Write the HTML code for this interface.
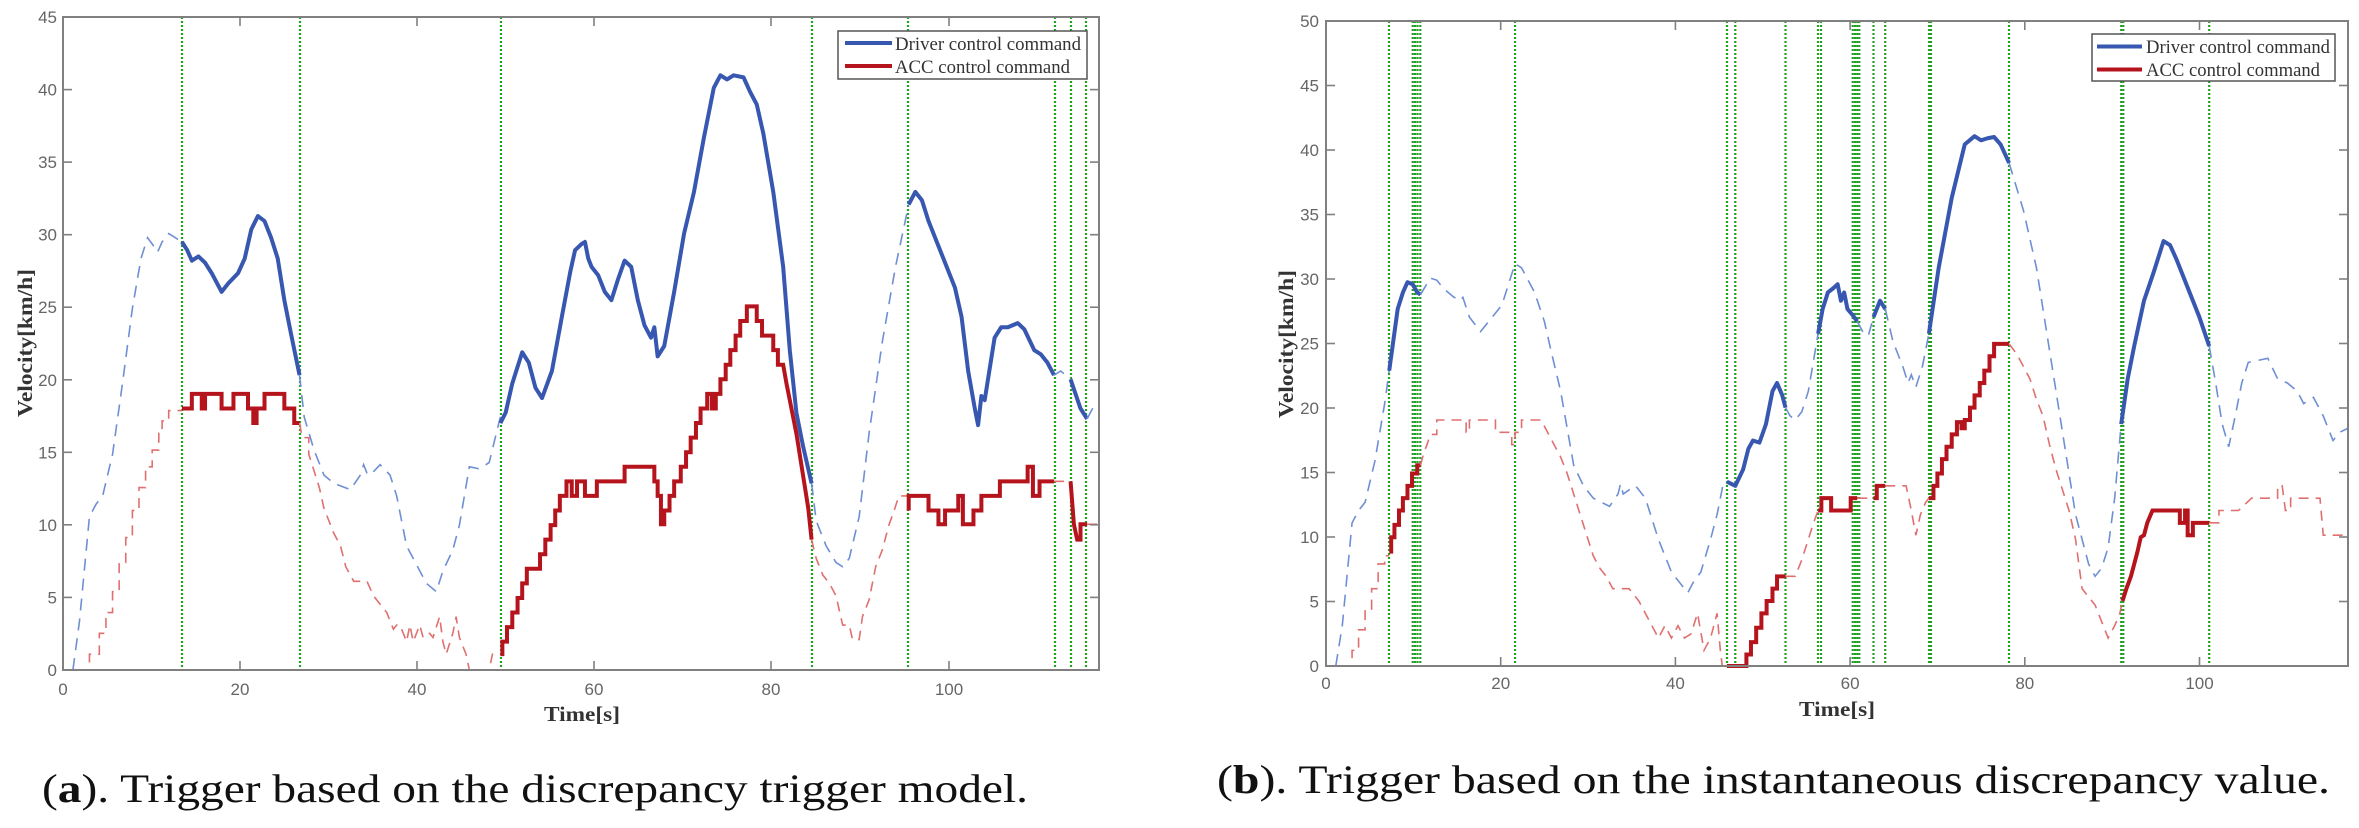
<!DOCTYPE html>
<html><head><meta charset="utf-8"><style>
html,body{margin:0;padding:0;background:#fff;}
svg{display:block;}
.ax{fill:none;stroke:#808080;stroke-width:2;}
.tk{stroke:#808080;stroke-width:1.6;}
.tl{font-family:"Liberation Sans",Arial,sans-serif;font-size:17px;fill:#666;}
.lab{font-family:"Liberation Serif",serif;font-weight:bold;font-size:21px;fill:#333;}
.leg{font-family:"Liberation Serif",serif;font-size:19px;fill:#333;}
.cap{font-family:"Liberation Serif",serif;font-size:40px;fill:#111;}
.gr{stroke:#22a022;stroke-width:2.2;stroke-dasharray:2 2;}
.bs{fill:none;stroke:#3757b0;stroke-width:4;stroke-linejoin:round;vector-effect:non-scaling-stroke;}
.bd{fill:none;stroke:#6f8fd4;stroke-width:1.6;stroke-dasharray:12 8;vector-effect:non-scaling-stroke;}
.rs{fill:none;stroke:#b5141d;stroke-width:4;stroke-linejoin:miter;vector-effect:non-scaling-stroke;}
.rd{fill:none;stroke:#e07070;stroke-width:1.6;stroke-dasharray:10 7;vector-effect:non-scaling-stroke;}
</style></head><body>
<svg width="2359" height="828" viewBox="0 0 2359 828" xmlns="http://www.w3.org/2000/svg">
<rect width="2359" height="828" fill="#fff"/>

<!-- ================= LEFT PANEL ================= -->
<g>
<!-- triggers -->
<g class="gr">
<line x1="182" y1="17" x2="182" y2="670"/><line x1="300" y1="17" x2="300" y2="670"/>
<line x1="501" y1="17" x2="501" y2="670"/><line x1="812" y1="17" x2="812" y2="670"/>
<line x1="908" y1="17" x2="908" y2="670"/><line x1="1055" y1="17" x2="1055" y2="670"/>
<line x1="1071" y1="17" x2="1071" y2="670"/><line x1="1086" y1="17" x2="1086" y2="670"/>
</g>
<g transform="translate(63,17) scale(0.66071,0.41645)">
<!-- blue -->
<path class="bd" d="M15,1568 L25,1450 L40,1200 L50,1170 L60,1150 L75,1050 L90,880 L105,700 L118,580 L128,530 L135,545 L143,565 L150,540 L160,520 L170,530 L180,540"/>
<path class="bs" d="M180,540 L188,560 L195,585 L205,575 L215,590 L225,615 L240,660 L250,640 L265,615 L275,580 L285,510 L295,478 L305,490 L315,530 L325,580 L335,680 L345,760 L358,860"/>
<path class="bd" d="M358,860 L365,960 L380,1040 L395,1100 L410,1120 L435,1135 L450,1100 L455,1075 L460,1095 L465,1100 L480,1075 L495,1100 L505,1150 L520,1270 L530,1300 L540,1330 L550,1360 L565,1380 L575,1330 L590,1280 L600,1220 L615,1080 L630,1085 L645,1070 L662,960"/>
<path class="bs" d="M662,975 L670,950 L680,880 L695,805 L705,830 L715,890 L725,915 L740,850 L755,720 L768,610 L775,560 L785,545 L790,540 L795,580 L800,600 L810,620 L820,660 L830,680 L840,630 L850,585 L860,600 L870,680 L880,740 L890,770 L895,745 L900,815 L910,790 L925,660 L940,520 L955,420 L970,290 L985,170 L995,140 L1005,150 L1015,140 L1030,145 L1040,180 L1050,210 L1060,280 L1075,420 L1090,600 L1100,800 L1110,950 L1120,1030 L1133,1120"/>
<path class="bd" d="M1133,1120 L1140,1210 L1155,1270 L1170,1310 L1180,1320 L1190,1300 L1205,1200 L1220,1000 L1240,780 L1260,600 L1280,450"/>
<path class="bs" d="M1280,450 L1290,420 L1300,440 L1310,490 L1330,570 L1350,650 L1360,720 L1370,850 L1380,940 L1385,980 L1390,910 L1395,920 L1410,770 L1420,745 L1430,745 L1445,735 L1455,750 L1470,800 L1480,810 L1490,830 L1500,860"/>
<path class="bd" d="M1500,860 L1510,850 L1525,870"/>
<path class="bs" d="M1525,870 L1540,940 L1550,965"/>
<path class="bd" d="M1550,965 L1560,935 L1568,930"/>
<!-- red -->
<path class="rd" d="M0,1568 L40,1568 L40,1530 L55,1530 L55,1480 L65,1480 L65,1430 L75,1430 L75,1380 L85,1380 L85,1310 L95,1310 L95,1250 L105,1250 L105,1185 L115,1185 L115,1130 L125,1130 L125,1080 L135,1080 L135,1040 L145,1040 L145,1000 L150,1000 L150,970 L160,970 L160,945 L180,945"/>
<path class="rs" d="M180,940 L195,940 L195,905 L210,905 L210,940 L215,940 L215,905 L240,905 L240,940 L258,940 L258,905 L280,905 L280,940 L288,940 L288,975 L293,975 L293,940 L305,940 L305,905 L335,905 L335,940 L350,940 L350,975 L358,975"/>
<path class="rd" d="M358,975 L362,1010 L372,1010 L372,1050 L380,1090 L388,1130 L395,1180 L405,1220 L410,1240 L420,1270 L428,1320 L440,1355 L460,1355 L470,1390 L480,1410 L490,1430 L500,1470 L505,1460 L510,1460 L515,1480 L520,1500 L525,1460 L530,1500 L540,1460 L545,1490 L555,1480 L560,1490 L570,1440 L575,1500 L580,1530 L590,1480 L595,1440 L600,1490 L610,1530 L615,1568 L645,1568 L650,1530 L662,1530"/>
<path class="rs" d="M662,1530 L665,1530 L665,1500 L672,1500 L672,1465 L680,1465 L680,1430 L688,1430 L688,1395 L695,1395 L695,1360 L702,1360 L702,1325 L722,1325 L722,1290 L730,1290 L730,1255 L738,1255 L738,1220 L745,1220 L745,1185 L752,1185 L752,1150 L762,1150 L762,1115 L770,1115 L770,1150 L778,1150 L778,1115 L790,1115 L790,1150 L808,1150 L808,1115 L850,1115 L850,1080 L895,1080 L895,1115 L900,1115 L900,1150 L905,1150 L905,1218 L910,1218 L910,1185 L918,1185 L918,1150 L925,1150 L925,1115 L935,1115 L935,1080 L943,1080 L943,1045 L950,1045 L950,1010 L958,1010 L958,975 L965,975 L965,940 L975,940 L975,905 L982,905 L982,940 L988,940 L988,905 L995,905 L995,870 L1003,870 L1003,835 L1010,835 L1010,800 L1018,800 L1018,765 L1025,765 L1025,730 L1035,730 L1035,695 L1050,695 L1050,730 L1058,730 L1058,765 L1075,765 L1075,800 L1082,800 L1082,835 L1090,835 L1095,880 L1100,920 L1110,1000 L1120,1100 L1128,1180 L1133,1255"/>
<path class="rd" d="M1133,1255 L1140,1300 L1150,1340 L1160,1360 L1170,1390 L1180,1460 L1190,1460 L1195,1495 L1205,1495 L1210,1440 L1220,1400 L1230,1320 L1240,1280 L1250,1220 L1258,1185 L1265,1150 L1280,1150"/>
<path class="rs" d="M1280,1185 L1280,1150 L1310,1150 L1310,1185 L1325,1185 L1325,1218 L1335,1218 L1335,1185 L1355,1185 L1355,1150 L1362,1150 L1362,1218 L1378,1218 L1378,1185 L1390,1185 L1390,1150 L1418,1150 L1418,1115 L1460,1115 L1460,1080 L1468,1080 L1468,1150 L1478,1150 L1478,1115 L1500,1115"/>
<path class="rd" d="M1500,1115 L1525,1115"/>
<path class="rs" d="M1525,1115 L1530,1218 L1535,1255 L1540,1255 L1540,1218 L1550,1218"/>
<path class="rd" d="M1550,1218 L1568,1218"/>
</g>
<!-- axes -->
<rect class="ax" x="63" y="17" width="1036" height="653"/>
<g class="tk">
<line x1="240" y1="670" x2="240" y2="661"/><line x1="417" y1="670" x2="417" y2="661"/><line x1="594" y1="670" x2="594" y2="661"/><line x1="771" y1="670" x2="771" y2="661"/><line x1="949" y1="670" x2="949" y2="661"/>
<line x1="240" y1="17" x2="240" y2="26"/><line x1="417" y1="17" x2="417" y2="26"/><line x1="594" y1="17" x2="594" y2="26"/><line x1="771" y1="17" x2="771" y2="26"/><line x1="949" y1="17" x2="949" y2="26"/>
<line x1="63" y1="597.4" x2="72" y2="597.4"/><line x1="63" y1="524.8" x2="72" y2="524.8"/><line x1="63" y1="452.3" x2="72" y2="452.3"/><line x1="63" y1="379.8" x2="72" y2="379.8"/><line x1="63" y1="307.2" x2="72" y2="307.2"/><line x1="63" y1="234.7" x2="72" y2="234.7"/><line x1="63" y1="162.1" x2="72" y2="162.1"/><line x1="63" y1="89.6" x2="72" y2="89.6"/>
<line x1="1099" y1="597.4" x2="1090" y2="597.4"/><line x1="1099" y1="524.8" x2="1090" y2="524.8"/><line x1="1099" y1="452.3" x2="1090" y2="452.3"/><line x1="1099" y1="379.8" x2="1090" y2="379.8"/><line x1="1099" y1="307.2" x2="1090" y2="307.2"/><line x1="1099" y1="234.7" x2="1090" y2="234.7"/><line x1="1099" y1="162.1" x2="1090" y2="162.1"/><line x1="1099" y1="89.6" x2="1090" y2="89.6"/>
</g>
<g class="tl" text-anchor="middle">
<text x="63" y="695">0</text><text x="240" y="695">20</text><text x="417" y="695">40</text><text x="594" y="695">60</text><text x="771" y="695">80</text><text x="949" y="695">100</text>
</g>
<g class="tl" text-anchor="end">
<text x="57" y="676">0</text><text x="57" y="603.4">5</text><text x="57" y="530.8">10</text><text x="57" y="458.3">15</text><text x="57" y="385.8">20</text><text x="57" y="313.2">25</text><text x="57" y="240.7">30</text><text x="57" y="168.1">35</text><text x="57" y="95.6">40</text><text x="57" y="23">45</text>
</g>
<text class="lab" x="582" y="721" text-anchor="middle" textLength="76" lengthAdjust="spacingAndGlyphs">Time[s]</text>
<text class="lab" transform="translate(32,343) rotate(-90)" x="0" y="0" text-anchor="middle" textLength="148" lengthAdjust="spacingAndGlyphs">Velocity[km/h]</text>
<!-- legend -->
<rect x="838" y="31" width="249" height="48" fill="#fff" stroke="#555" stroke-width="1.5"/>
<line x1="845" y1="43" x2="892" y2="43" stroke="#3757b0" stroke-width="4"/>
<line x1="845" y1="66" x2="892" y2="66" stroke="#b5141d" stroke-width="4"/>
<text class="leg" x="895" y="50" textLength="186" lengthAdjust="spacingAndGlyphs">Driver control command</text>
<text class="leg" x="895" y="73" textLength="175" lengthAdjust="spacingAndGlyphs">ACC control command</text>
</g>

<!-- ================= RIGHT PANEL ================= -->
<g>
<g class="gr">
<line x1="1389" y1="21" x2="1389" y2="666"/>
<line x1="1412.7" y1="21" x2="1412.7" y2="666"/><line x1="1415" y1="21" x2="1415" y2="666"/><line x1="1417.5" y1="21" x2="1417.5" y2="666"/><line x1="1420.3" y1="21" x2="1420.3" y2="666"/>
<line x1="1515" y1="21" x2="1515" y2="666"/>
<line x1="1727" y1="21" x2="1727" y2="666"/><line x1="1735.3" y1="21" x2="1735.3" y2="666"/>
<line x1="1785.5" y1="21" x2="1785.5" y2="666"/>
<line x1="1818" y1="21" x2="1818" y2="666"/><line x1="1821" y1="21" x2="1821" y2="666"/>
<line x1="1852.7" y1="21" x2="1852.7" y2="666"/><line x1="1855" y1="21" x2="1855" y2="666"/><line x1="1857.2" y1="21" x2="1857.2" y2="666"/><line x1="1859.3" y1="21" x2="1859.3" y2="666"/>
<line x1="1873.5" y1="21" x2="1873.5" y2="666"/><line x1="1885.2" y1="21" x2="1885.2" y2="666"/>
<line x1="1929" y1="21" x2="1929" y2="666"/><line x1="1931" y1="21" x2="1931" y2="666"/>
<line x1="2009" y1="21" x2="2009" y2="666"/>
<line x1="2121.2" y1="21" x2="2121.2" y2="666"/><line x1="2123.3" y1="21" x2="2123.3" y2="666"/>
<line x1="2209.2" y1="21" x2="2209.2" y2="666"/>
</g>
<g transform="translate(1326,21) scale(0.65179,0.41135)">
<!-- blue -->
<path class="bd" d="M15,1568 L25,1470 L40,1220 L50,1190 L60,1170 L75,1070 L90,930 L97,850"/>
<path class="bs" d="M97,850 L110,700 L118,660 L125,635 L133,640 L140,660 L145,665"/>
<path class="bd" d="M145,665 L160,625 L170,630 L180,650 L195,670 L205,680 L210,672 L220,720 L237,755 L255,720 L270,690 L280,640 L290,590 L300,600 L320,660 L335,730 L345,800 L360,900 L370,990 L380,1080 L395,1130 L410,1160 L435,1180 L448,1150 L452,1125 L456,1150 L465,1140 L475,1130 L490,1160 L500,1210 L510,1260 L520,1300 L530,1340 L540,1360 L555,1390 L565,1360 L575,1340 L590,1260 L600,1200 L610,1120 L615,1120"/>
<path class="bs" d="M615,1120 L628,1130 L640,1090 L648,1040 L655,1020 L665,1025 L675,980 L685,900 L692,880 L700,910 L705,940"/>
<path class="bd" d="M705,940 L712,960 L720,970 L730,950 L740,900 L755,760"/>
<path class="bs" d="M755,760 L762,700 L770,660 L778,650 L785,640 L790,680 L795,660 L800,700 L808,715 L815,730"/>
<path class="bd" d="M815,730 L825,760 L832,765 L840,720"/>
<path class="bs" d="M840,720 L850,680 L858,700"/>
<path class="bd" d="M858,700 L870,780 L885,840 L893,880 L898,860 L905,890 L915,840 L925,760"/>
<path class="bs" d="M925,760 L940,600 L960,430 L980,300 L995,280 L1005,290 L1015,285 L1025,282 L1035,300 L1048,345"/>
<path class="bd" d="M1048,345 L1070,460 L1090,600 L1110,800 L1130,1000 L1150,1200 L1170,1320 L1180,1350 L1190,1330 L1200,1280 L1210,1160 L1220,980"/>
<path class="bs" d="M1220,980 L1230,870 L1240,790 L1255,680 L1270,610 L1285,535 L1295,545 L1305,580 L1320,640 L1340,720 L1355,790"/>
<path class="bd" d="M1355,790 L1365,880 L1375,980 L1385,1035 L1395,960 L1405,880 L1415,830 L1430,825 L1445,820 L1460,870 L1475,880 L1490,900 L1500,930 L1515,915 L1530,960 L1545,1020 L1555,1000 L1568,990"/>
<!-- red -->
<path class="rd" d="M0,1568 L40,1568 L40,1530 L50,1530 L50,1480 L60,1480 L60,1430 L70,1430 L70,1380 L80,1380 L80,1320 L90,1320 L90,1300 L97,1300"/>
<path class="rs" d="M97,1290 L100,1290 L100,1255 L105,1255 L105,1225 L112,1225 L112,1190 L118,1190 L118,1160 L125,1160 L125,1130 L132,1130 L132,1100 L140,1100 L140,1080 L145,1080"/>
<path class="rd" d="M145,1080 L150,1050 L155,1030 L160,1005 L170,1005 L170,970 L215,970 L215,1000 L220,1000 L220,970 L260,970 L260,1000 L285,1000 L285,1030 L290,1030 L290,1000 L300,1000 L300,970 L330,970 L340,1000 L350,1030 L360,1060 L370,1100 L380,1150 L390,1200 L400,1250 L410,1300 L420,1330 L430,1350 L440,1380 L465,1380 L480,1410 L490,1440 L500,1470 L510,1500 L520,1470 L530,1500 L540,1470 L550,1500 L560,1490 L570,1440 L580,1530 L590,1500 L600,1440 L605,1530 L608,1568 L615,1568"/>
<path class="rs" d="M615,1568 L645,1568 L645,1540 L652,1540 L652,1510 L660,1510 L660,1475 L668,1475 L668,1440 L676,1440 L676,1410 L685,1410 L685,1380 L692,1380 L692,1350 L705,1350"/>
<path class="rd" d="M705,1350 L720,1350 L730,1310 L740,1260 L748,1220 L755,1190"/>
<path class="rs" d="M755,1190 L760,1190 L760,1160 L775,1160 L775,1190 L805,1190 L805,1160 L815,1160"/>
<path class="rd" d="M815,1160 L840,1160"/>
<path class="rs" d="M840,1160 L845,1160 L845,1130 L858,1130"/>
<path class="rd" d="M858,1130 L890,1130 L898,1190 L905,1250 L912,1200 L920,1170 L925,1160"/>
<path class="rs" d="M925,1160 L932,1160 L932,1130 L938,1130 L938,1100 L945,1100 L945,1065 L952,1065 L952,1035 L960,1035 L960,1005 L968,1005 L968,975 L975,975 L975,990 L980,990 L980,970 L988,970 L988,940 L995,940 L995,910 L1003,910 L1003,880 L1010,880 L1010,850 L1018,850 L1018,815 L1025,815 L1025,785 L1048,785"/>
<path class="rd" d="M1048,785 L1060,810 L1070,840 L1080,870 L1090,920 L1100,960 L1110,1030 L1120,1090 L1130,1140 L1140,1190 L1150,1260 L1160,1380 L1170,1400 L1180,1420 L1190,1460 L1200,1500 L1210,1470 L1218,1440 L1222,1410"/>
<path class="rs" d="M1222,1410 L1228,1380 L1235,1350 L1240,1320 L1245,1290 L1250,1255 L1255,1250 L1260,1220 L1268,1190 L1275,1190 L1310,1190 L1310,1220 L1318,1220 L1318,1190 L1322,1190 L1322,1250 L1330,1250 L1330,1220 L1355,1220"/>
<path class="rd" d="M1355,1220 L1370,1220 L1370,1190 L1400,1190 L1420,1160 L1460,1160 L1460,1130 L1467,1130 L1472,1190 L1480,1190 L1480,1160 L1525,1160 L1530,1250 L1568,1250"/>
</g>
<rect class="ax" x="1326" y="21" width="1022" height="645"/>
<g class="tk">
<line x1="1500.7" y1="666" x2="1500.7" y2="657"/><line x1="1675.4" y1="666" x2="1675.4" y2="657"/><line x1="1850.1" y1="666" x2="1850.1" y2="657"/><line x1="2024.8" y1="666" x2="2024.8" y2="657"/><line x1="2199.5" y1="666" x2="2199.5" y2="657"/>
<line x1="1500.7" y1="21" x2="1500.7" y2="30"/><line x1="1675.4" y1="21" x2="1675.4" y2="30"/><line x1="1850.1" y1="21" x2="1850.1" y2="30"/><line x1="2024.8" y1="21" x2="2024.8" y2="30"/><line x1="2199.5" y1="21" x2="2199.5" y2="30"/>
<line x1="1326" y1="601.5" x2="1335" y2="601.5"/><line x1="1326" y1="537" x2="1335" y2="537"/><line x1="1326" y1="472.5" x2="1335" y2="472.5"/><line x1="1326" y1="408" x2="1335" y2="408"/><line x1="1326" y1="343.5" x2="1335" y2="343.5"/><line x1="1326" y1="279" x2="1335" y2="279"/><line x1="1326" y1="214.5" x2="1335" y2="214.5"/><line x1="1326" y1="150" x2="1335" y2="150"/><line x1="1326" y1="85.5" x2="1335" y2="85.5"/>
<line x1="2348" y1="601.5" x2="2339" y2="601.5"/><line x1="2348" y1="537" x2="2339" y2="537"/><line x1="2348" y1="472.5" x2="2339" y2="472.5"/><line x1="2348" y1="408" x2="2339" y2="408"/><line x1="2348" y1="343.5" x2="2339" y2="343.5"/><line x1="2348" y1="279" x2="2339" y2="279"/><line x1="2348" y1="214.5" x2="2339" y2="214.5"/><line x1="2348" y1="150" x2="2339" y2="150"/><line x1="2348" y1="85.5" x2="2339" y2="85.5"/>
</g>
<g class="tl" text-anchor="middle">
<text x="1326" y="689">0</text><text x="1500.7" y="689">20</text><text x="1675.4" y="689">40</text><text x="1850.1" y="689">60</text><text x="2024.8" y="689">80</text><text x="2199.5" y="689">100</text>
</g>
<g class="tl" text-anchor="end">
<text x="1319" y="672">0</text><text x="1319" y="607.5">5</text><text x="1319" y="543">10</text><text x="1319" y="478.5">15</text><text x="1319" y="414">20</text><text x="1319" y="349.5">25</text><text x="1319" y="285">30</text><text x="1319" y="220.5">35</text><text x="1319" y="156">40</text><text x="1319" y="91.5">45</text><text x="1319" y="27">50</text>
</g>
<text class="lab" x="1837" y="716" text-anchor="middle" textLength="76" lengthAdjust="spacingAndGlyphs">Time[s]</text>
<text class="lab" transform="translate(1293,344) rotate(-90)" x="0" y="0" text-anchor="middle" textLength="148" lengthAdjust="spacingAndGlyphs">Velocity[km/h]</text>
<rect x="2092" y="34" width="243" height="47" fill="#fff" stroke="#555" stroke-width="1.5"/>
<line x1="2097" y1="46.5" x2="2142" y2="46.5" stroke="#3757b0" stroke-width="4"/>
<line x1="2097" y1="69.5" x2="2142" y2="69.5" stroke="#b5141d" stroke-width="4"/>
<text class="leg" x="2146" y="53" textLength="184" lengthAdjust="spacingAndGlyphs">Driver control command</text>
<text class="leg" x="2146" y="76" textLength="174" lengthAdjust="spacingAndGlyphs">ACC control command</text>
</g>

<!-- captions -->
<text class="cap" x="42" y="802" textLength="986" lengthAdjust="spacingAndGlyphs">(<tspan font-weight="bold">a</tspan>). Trigger based on the discrepancy trigger model.</text>
<text class="cap" x="1217" y="793" textLength="1113" lengthAdjust="spacingAndGlyphs">(<tspan font-weight="bold">b</tspan>). Trigger based on the instantaneous discrepancy value.</text>
</svg>
</body></html>
